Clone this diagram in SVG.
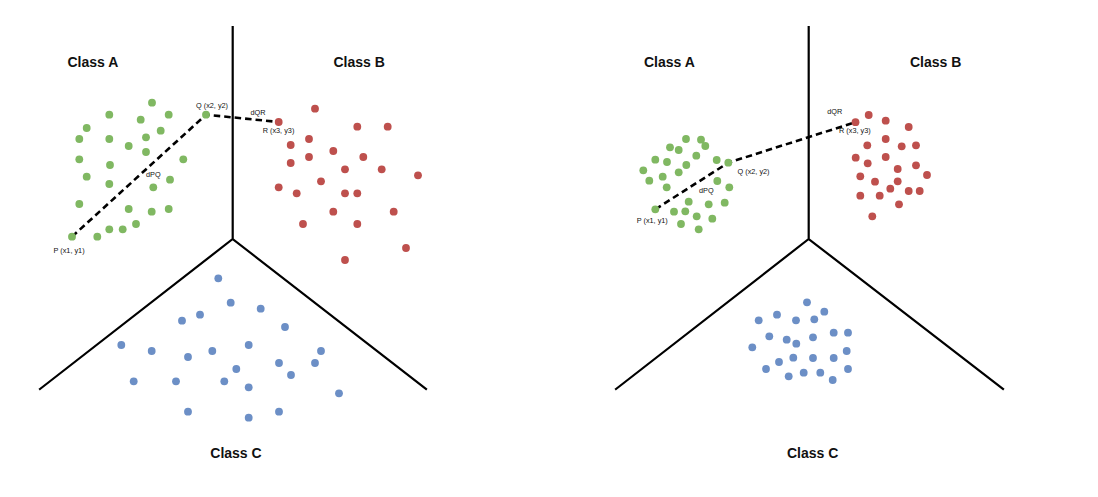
<svg xmlns="http://www.w3.org/2000/svg" width="1098" height="497" viewBox="0 0 1098 497">
<style>
.bg{fill:#ffffff}
.bound{stroke:#000;stroke-width:2.2;fill:none;stroke-linecap:square}
.dist{stroke:#000;stroke-width:2.6;fill:none;stroke-dasharray:6.5 4}
.g{fill:#80B862}
.r{fill:#BE504D}
.b{fill:#6C8FC6}
.title{font-family:"Liberation Sans",Arial,sans-serif;font-weight:bold;font-size:14px;fill:#111}
.lbl{font-family:"Liberation Sans",Arial,sans-serif;font-size:7.3px;fill:#111}
</style>
<defs>
<circle id="dot" r="3.9"/>
</defs>
<rect class="bg" x="0" y="0" width="1098" height="497"/>

<!-- LEFT PANEL -->
<g id="left-boundaries">
<path class="bound" d="M232.7,27 V239 M232.7,239 L40,389 M232.7,239 L426,389"/>
</g>
<g id="left-connectors">
<path class="dist" d="M72,236.7 L206,114.7 L278.7,122"/>
</g>
<g id="left-class-a">
<text class="title" x="67.5" y="67.3">Class A</text>
<g class="g">
<use href="#dot" x="152" y="102.7"/><use href="#dot" x="109.3" y="114.7"/><use href="#dot" x="140.7" y="119.7"/><use href="#dot" x="168.7" y="114.7"/>
<use href="#dot" x="86.7" y="128"/><use href="#dot" x="160.7" y="130.7"/><use href="#dot" x="79.3" y="139"/><use href="#dot" x="109.3" y="139"/>
<use href="#dot" x="146" y="137.3"/><use href="#dot" x="128.7" y="146"/><use href="#dot" x="146" y="152"/><use href="#dot" x="79.3" y="159.3"/>
<use href="#dot" x="110" y="165"/><use href="#dot" x="183.3" y="159.3"/><use href="#dot" x="86.7" y="176.7"/><use href="#dot" x="170" y="179.7"/>
<use href="#dot" x="109.3" y="184"/><use href="#dot" x="153.3" y="187.3"/><use href="#dot" x="79.3" y="204"/><use href="#dot" x="128.7" y="209"/>
<use href="#dot" x="151.7" y="211.7"/><use href="#dot" x="168.7" y="209"/><use href="#dot" x="136" y="224"/><use href="#dot" x="122.7" y="229.3"/>
<use href="#dot" x="109.3" y="229.3"/><use href="#dot" x="97.3" y="236.7"/>
</g>
</g>
<g id="left-point-p">
<use href="#dot" class="g" x="72" y="236.7"/>
<text class="lbl" x="53.5" y="252.7">P (x1, y1)</text>
</g>
<g id="left-point-q">
<use href="#dot" class="g" x="206" y="114.7"/>
<text class="lbl" x="196" y="108">Q (x2, y2)</text>
</g>
<g id="left-label-dpq"><text class="lbl" x="146" y="177">dPQ</text></g>
<g id="left-label-dqr"><text class="lbl" x="250.5" y="114.8">dQR</text></g>
<g id="left-class-b">
<text class="title" x="333.5" y="67.3">Class B</text>
<g class="r">
<use href="#dot" x="315" y="108.7"/><use href="#dot" x="357.3" y="126.7"/><use href="#dot" x="387.7" y="126.7"/><use href="#dot" x="290.7" y="145"/>
<use href="#dot" x="309" y="139"/><use href="#dot" x="333.3" y="151"/><use href="#dot" x="363.3" y="157"/><use href="#dot" x="290.7" y="163"/>
<use href="#dot" x="309" y="157"/><use href="#dot" x="345" y="169.3"/><use href="#dot" x="381.7" y="169.3"/><use href="#dot" x="418" y="175.3"/>
<use href="#dot" x="321" y="181.3"/><use href="#dot" x="278.7" y="187.3"/><use href="#dot" x="296.7" y="193.3"/><use href="#dot" x="345" y="193.3"/>
<use href="#dot" x="357.3" y="193.3"/><use href="#dot" x="333.3" y="211.7"/><use href="#dot" x="393.7" y="211.7"/><use href="#dot" x="303" y="224"/>
<use href="#dot" x="357.3" y="224"/><use href="#dot" x="406" y="248"/><use href="#dot" x="345" y="260"/>
</g>
</g>
<g id="left-point-r">
<use href="#dot" class="r" x="278.7" y="122"/>
<text class="lbl" x="262.7" y="133.3">R (x3, y3)</text>
</g>
<g id="left-class-c">
<text class="title" x="210.3" y="457.7">Class C</text>
<g class="b">
<use href="#dot" x="218.3" y="278.3"/><use href="#dot" x="230.7" y="302.7"/><use href="#dot" x="260.7" y="308.7"/><use href="#dot" x="200" y="314.7"/>
<use href="#dot" x="182" y="320.7"/><use href="#dot" x="285" y="327"/><use href="#dot" x="121.3" y="345"/><use href="#dot" x="151.7" y="351"/>
<use href="#dot" x="188" y="357"/><use href="#dot" x="212.3" y="351"/><use href="#dot" x="248.7" y="345"/><use href="#dot" x="321" y="351"/>
<use href="#dot" x="279" y="363"/><use href="#dot" x="315" y="363"/><use href="#dot" x="236.3" y="369"/><use href="#dot" x="291" y="375"/>
<use href="#dot" x="133.7" y="381.3"/><use href="#dot" x="176" y="381.3"/><use href="#dot" x="224.3" y="381.3"/><use href="#dot" x="248.7" y="387.3"/>
<use href="#dot" x="339" y="393.3"/><use href="#dot" x="188" y="411.7"/><use href="#dot" x="248.7" y="417.7"/><use href="#dot" x="279" y="411.7"/>
</g>
</g>

<!-- RIGHT PANEL -->
<g id="right-boundaries">
<path class="bound" d="M808.7,27 V239 M808.7,239 L616,389 M808.7,239 L1003,389"/>
</g>
<g id="right-connectors">
<path class="dist" d="M655.3,209.3 L728.3,162.7 L855.5,122.2"/>
</g>
<g id="right-class-a">
<text class="title" x="644" y="67.3">Class A</text>
<g class="g">
<use href="#dot" x="686" y="139"/><use href="#dot" x="701" y="139.7"/><use href="#dot" x="670" y="147.3"/><use href="#dot" x="678.7" y="150"/>
<use href="#dot" x="705.3" y="146"/><use href="#dot" x="655.3" y="159.7"/><use href="#dot" x="667" y="162"/><use href="#dot" x="696.3" y="155.7"/>
<use href="#dot" x="716.7" y="160"/><use href="#dot" x="643.3" y="170.3"/><use href="#dot" x="686.3" y="165"/><use href="#dot" x="649.3" y="180.7"/>
<use href="#dot" x="662.7" y="176.7"/><use href="#dot" x="678.7" y="172.3"/><use href="#dot" x="666.7" y="187.3"/><use href="#dot" x="717.3" y="181"/>
<use href="#dot" x="729.3" y="187.3"/><use href="#dot" x="688.7" y="201.7"/><use href="#dot" x="708.7" y="204.3"/><use href="#dot" x="724.7" y="202.7"/>
<use href="#dot" x="674" y="211.7"/><use href="#dot" x="685.3" y="211.3"/><use href="#dot" x="696.7" y="216.3"/><use href="#dot" x="712.3" y="218.7"/>
<use href="#dot" x="681" y="224"/><use href="#dot" x="698.7" y="229.3"/>
</g>
</g>
<g id="right-point-p">
<use href="#dot" class="g" x="655.3" y="209.3"/>
<text class="lbl" x="636.7" y="223.3">P (x1, y1)</text>
</g>
<g id="right-point-q">
<use href="#dot" class="g" x="728.3" y="162.7"/>
<text class="lbl" x="737.5" y="174.3">Q (x2, y2)</text>
</g>
<g id="right-label-dpq"><text class="lbl" x="699" y="192.7">dPQ</text></g>
<g id="right-label-dqr"><text class="lbl" x="827.3" y="114.3">dQR</text></g>
<g id="right-class-b">
<text class="title" x="910" y="67.3">Class B</text>
<g class="r">
<use href="#dot" x="868.7" y="115"/><use href="#dot" x="885.7" y="120.7"/><use href="#dot" x="908.7" y="127"/><use href="#dot" x="885.7" y="139"/>
<use href="#dot" x="867.3" y="145.3"/><use href="#dot" x="901.7" y="146.3"/><use href="#dot" x="916" y="145.3"/><use href="#dot" x="855.7" y="157.7"/>
<use href="#dot" x="885.7" y="157"/><use href="#dot" x="867.7" y="163.3"/><use href="#dot" x="916" y="165.3"/><use href="#dot" x="897.7" y="169"/>
<use href="#dot" x="927" y="175"/><use href="#dot" x="860.3" y="176.3"/><use href="#dot" x="875" y="181.7"/><use href="#dot" x="897.7" y="181.3"/>
<use href="#dot" x="890.3" y="188.7"/><use href="#dot" x="908.7" y="191"/><use href="#dot" x="919.7" y="191"/><use href="#dot" x="860.3" y="195.7"/>
<use href="#dot" x="879.7" y="195.7"/><use href="#dot" x="899" y="204.3"/><use href="#dot" x="872.3" y="216.3"/>
</g>
</g>
<g id="right-point-r">
<use href="#dot" class="r" x="855.5" y="122.2"/>
<text class="lbl" x="839" y="133.3">R (x3, y3)</text>
</g>
<g id="right-class-c">
<text class="title" x="787" y="457.7">Class C</text>
<g class="b">
<use href="#dot" x="807" y="302.3"/><use href="#dot" x="777" y="314.7"/><use href="#dot" x="824.3" y="311.7"/><use href="#dot" x="758.7" y="320.3"/>
<use href="#dot" x="796" y="320.3"/><use href="#dot" x="814.3" y="319.3"/><use href="#dot" x="769.3" y="336.3"/><use href="#dot" x="786.7" y="339.7"/>
<use href="#dot" x="796.3" y="343.7"/><use href="#dot" x="813" y="337.3"/><use href="#dot" x="833.7" y="332.7"/><use href="#dot" x="848" y="332.7"/>
<use href="#dot" x="752.3" y="347.3"/><use href="#dot" x="846.7" y="351"/><use href="#dot" x="779" y="362"/><use href="#dot" x="793.3" y="357.7"/>
<use href="#dot" x="813" y="358"/><use href="#dot" x="833.7" y="358"/><use href="#dot" x="766" y="369"/><use href="#dot" x="803.7" y="372.7"/>
<use href="#dot" x="820.3" y="372.7"/><use href="#dot" x="848" y="369"/><use href="#dot" x="788.7" y="376.3"/><use href="#dot" x="832.7" y="380"/>
</g>
</g>
</svg>
